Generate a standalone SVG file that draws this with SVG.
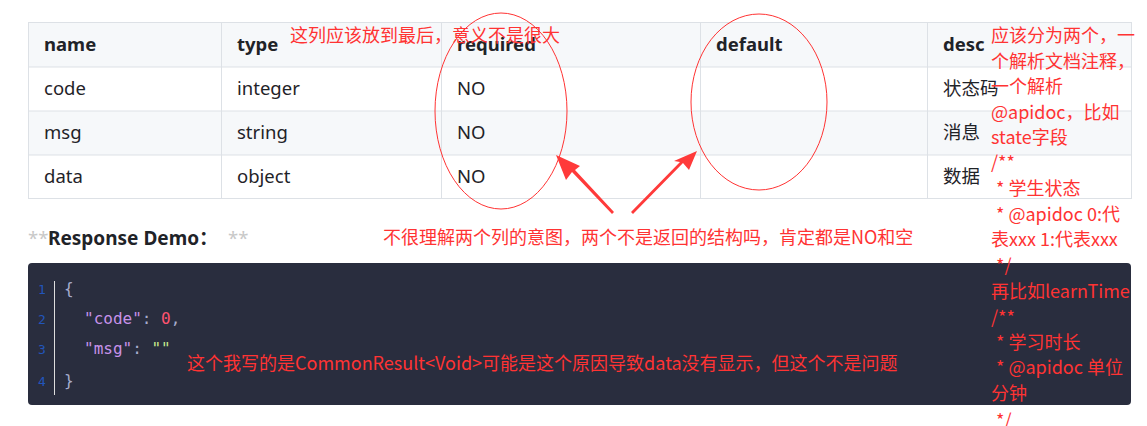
<svg xmlns="http://www.w3.org/2000/svg" width="1147" height="426" viewBox="0 0 1147 426">
<style>
.t{font-family:"Noto Sans","Liberation Sans","Noto Sans CJK SC",sans-serif;font-size:18.5px;fill:#1f2328}
.h{font-weight:bold}
.r{font-family:"Noto Sans CJK SC","Liberation Sans",sans-serif;font-size:18px;fill:#ff3333}
.c{font-family:"DejaVu Sans Mono","Liberation Mono",monospace;font-size:16px}
.n{font-family:"DejaVu Sans Mono",monospace;font-size:13px;fill:#2255bb}
</style>
<rect width="1147" height="426" fill="#fff"/>
<g id="table">
<rect x="28" y="22" width="1103" height="45" fill="#f6f8fa"/>
<rect x="28" y="111" width="1103" height="44" fill="#f6f8fa"/>
<g stroke="#dde1e6" fill="none">
<rect x="28.5" y="22.5" width="1103" height="176"/>
<path d="M28 67H1131M28 111H1131M28 155H1131M221.5 22V199M441.5 22V199M700.5 22V199M927.5 22V199"/>
</g>
<text class="t h" x="44" y="51">name</text><text class="t h" x="237" y="51">type</text><text class="t h" x="457" y="51">required</text><text class="t h" x="716" y="51">default</text><text class="t h" x="943" y="51">desc</text>
<text class="t" x="44" y="95">code</text><text class="t" x="237" y="95">integer</text><text class="t" x="457" y="95">NO</text><text class="t" x="943" y="95">状态码</text>
<text class="t" x="44" y="139">msg</text><text class="t" x="237" y="139">string</text><text class="t" x="457" y="139">NO</text><text class="t" x="943" y="139">消息</text>
<text class="t" x="44" y="183">data</text><text class="t" x="237" y="183">object</text><text class="t" x="457" y="183">NO</text><text class="t" x="943" y="183">数据</text>
</g>
<g id="demo-title">
<text x="28" y="245" class="t" style="fill:#c8c8c8">**</text>
<text x="48" y="245" class="t h" style="font-size:19px">Response Demo：</text>
<text x="228" y="245" class="t" style="fill:#c8c8c8">**</text>
</g>
<g id="code">
<rect x="28" y="263" width="1103" height="142" rx="4" fill="#292d3e"/>
<line x1="54.5" y1="281" x2="54.5" y2="395" stroke="#ddd"/>
<text class="n" x="38" y="294">1</text><text class="n" x="38" y="324">2</text><text class="n" x="38" y="354">3</text><text class="n" x="38" y="386">4</text>
<text class="c" x="64" y="294" fill="#a6accd">{</text>
<text class="c" x="84" y="324"><tspan fill="#c792ea">"code"</tspan><tspan fill="#a6accd">: </tspan><tspan fill="#ff5370">0</tspan><tspan fill="#a6accd">,</tspan></text>
<text class="c" x="84" y="354"><tspan fill="#c792ea">"msg"</tspan><tspan fill="#a6accd">: </tspan><tspan fill="#c3e88d">""</tspan></text>
<text class="c" x="64" y="386" fill="#a6accd">}</text>
</g>
<g id="annotations">
<ellipse cx="501" cy="111" rx="66" ry="98" fill="none" stroke="#ff3333"/>
<ellipse cx="759" cy="102" rx="68" ry="88" fill="none" stroke="#ff3333"/>
<text class="r" x="290" y="42">这列应该放到最后，意义不是很大</text>
<text class="r" x="383" y="244">不很理解两个列的意图，两个不是返回的结构吗，肯定都是NO和空</text>
<text class="r" x="187" y="370">这个我写的是CommonResult&lt;Void&gt;可能是这个原因导致data没有显示，但这个不是问题</text>
<g class="r">
<text x="991" y="42">应该分为两个，一</text>
<text x="991" y="68">个解析文档注释，</text>
<text x="991" y="93">一个解析</text>
<text x="991" y="119">@apidoc，比如</text>
<text x="991" y="144">state字段</text>
<text x="991" y="169">/**</text>
<text x="996" y="195">* 学生状态</text>
<text x="996" y="221">* @apidoc 0:代</text>
<text x="991" y="246">表xxx 1:代表xxx</text>
<text x="996" y="272">*/</text>
<text x="991" y="298">再比如learnTime</text>
<text x="991" y="324">/**</text>
<text x="996" y="349">* 学习时长</text>
<text x="996" y="374">* @apidoc 单位</text>
<text x="991" y="400">分钟</text>
<text x="996" y="427">*/</text>
</g>
</g>
<g id="connectors" fill="#ff3a3a">
<polygon points="612,214 572,172 566,180 556,155 580,166 575,170 614,212"/>
<polygon points="633,214 683,163 689,170 697,151 674,161 680,162 631,212"/>
</g>
</svg>
